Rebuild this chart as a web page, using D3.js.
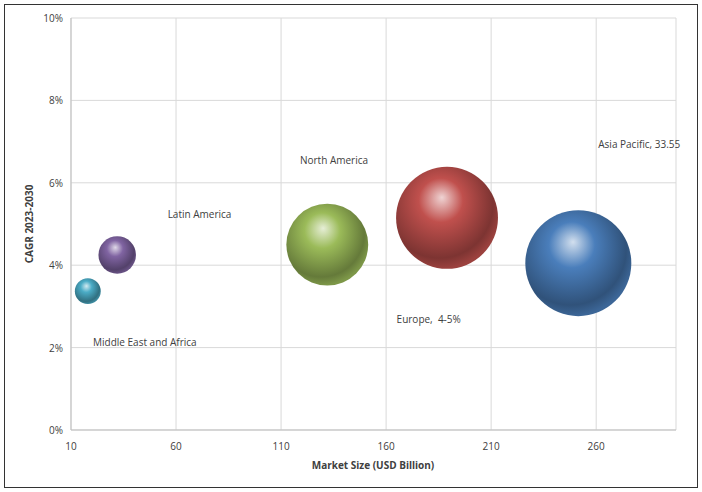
<!DOCTYPE html>
<html><head><meta charset="utf-8">
<script src="https://cdn.jsdelivr.net/npm/d3@7"></script>
<style>body{margin:0;background:#fff;font-family:"Open Sans",Arial,sans-serif} text{white-space:pre}</style>
</head><body><svg id="c" width="702" height="492"></svg>
<script>
const regions=["Asia Pacific","Europe","North America","Latin America","Middle East and Africa"];
const marketSize=[251.5,189,132,32,18];
const cagr=[4.05,5.15,4.5,4.25,3.37];
const bubbleSize=[33.55,31,20,4.2,2];
const colors=["#4a7ebb","#c0504d","#9bbb59","#8064a2","#4bacc6"];
const labels=["Asia Pacific, 33.55","Europe,  4-5%","North America","Latin America","Middle East and Africa"];
const labelX=[261,165,119,56,20.5];
const labelY=[6.85,2.6,6.45,5.15,2.05];
const xTicks=[10,60,110,160,210,260];
const yTicks=[0,2,4,6,8,10];

const svg=d3.select("#c");
svg.append("rect").attr("x",4.5).attr("y",4.5).attr("width",693).attr("height",483).attr("fill","none").attr("stroke","#333");
const x=d3.scaleLinear().domain([10,298]).range([71,676]);
const y=d3.scaleLinear().domain([0,10]).range([430,18]);
const r=d3.scaleSqrt().domain([0,33.55]).range([0,53]);
const defs=svg.append("defs");
colors.forEach((c,i)=>{
  const g=defs.append("radialGradient").attr("id","g"+i).attr("cx","0.42").attr("cy","0.38").attr("r","0.62").attr("fx","0.45").attr("fy","0.3");
  g.append("stop").attr("offset","0").attr("stop-color",d3.interpolateRgb(c,"#fff")(0.75));
  g.append("stop").attr("offset","0.35").attr("stop-color",c);
  g.append("stop").attr("offset","0.85").attr("stop-color",d3.color(c).darker(1.2));
  g.append("stop").attr("offset","1").attr("stop-color",d3.color(c).darker(0.6));
});
svg.append("g").selectAll("line").data(xTicks).join("line")
 .attr("x1",d=>x(d)).attr("x2",d=>x(d)).attr("y1",y(10)).attr("y2",y(0)).attr("stroke","#d9d9d9");
svg.append("g").selectAll("line").data(yTicks).join("line")
 .attr("x1",x(10)).attr("x2",676).attr("y1",d=>y(d)).attr("y2",d=>y(d)).attr("stroke","#d9d9d9");
svg.append("line").attr("x1",676).attr("x2",676).attr("y1",y(10)).attr("y2",y(0)).attr("stroke","#d9d9d9");
svg.append("line").attr("x1",x(10)).attr("x2",x(10)).attr("y1",y(10)).attr("y2",y(0)).attr("stroke","#bfbfbf");
svg.append("line").attr("x1",x(10)).attr("x2",676).attr("y1",y(0)).attr("y2",y(0)).attr("stroke","#bfbfbf");
svg.append("g").selectAll("text").data(xTicks).join("text")
 .attr("x",d=>x(d)).attr("y",y(0)+20).attr("text-anchor","middle").attr("font-size",10).attr("fill","#404040").text(d=>d);
svg.append("g").selectAll("text").data(yTicks).join("text")
 .attr("x",x(10)-8).attr("y",d=>y(d)+4).attr("text-anchor","end").attr("font-size",10).attr("fill","#404040").text(d=>d+"%");
svg.append("text").attr("x",373).attr("y",469).attr("text-anchor","middle").attr("font-size",10).attr("font-weight","bold").attr("fill","#404040").text("Market Size (USD Billion)");
svg.append("text").attr("transform","translate(33,"+y(5)+") rotate(-90)").attr("text-anchor","middle").attr("font-size",10).attr("font-weight","bold").attr("fill","#404040").text("CAGR 2023-2030");
svg.append("g").selectAll("circle").data(regions).join("circle")
 .attr("cx",(d,i)=>x(marketSize[i])).attr("cy",(d,i)=>y(cagr[i])).attr("r",(d,i)=>r(bubbleSize[i])).attr("fill",(d,i)=>"url(#g"+i+")");
svg.append("g").selectAll("text").data(labels).join("text")
 .attr("x",(d,i)=>x(labelX[i])).attr("y",(d,i)=>y(labelY[i])).attr("font-size",10).attr("fill","#404040").text(d=>d);
</script></body></html>
